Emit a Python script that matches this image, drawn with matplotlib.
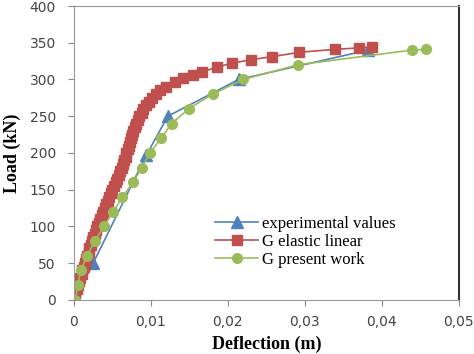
import numpy as np
import matplotlib
matplotlib.use("Agg")
import matplotlib.pyplot as plt
from matplotlib.ticker import FuncFormatter

# experimental values
exp_x = [0.0, 0.0025, 0.0094, 0.0122, 0.0214, 0.0382]
exp_y = [0, 50, 197, 250, 300, 340]

# G elastic linear
lin_x = [0.0, 0.0001, 0.0002, 0.0004, 0.0005, 0.0007, 0.0008, 0.0010, 0.0011, 0.0013,
         0.0014, 0.0016, 0.0017, 0.0019, 0.0020, 0.0022, 0.0023, 0.0025, 0.0027, 0.0029,
         0.0030, 0.0032, 0.0034, 0.0036, 0.0038, 0.0040, 0.0042, 0.0044, 0.0046, 0.0048,
         0.0050, 0.0052, 0.0054, 0.0056, 0.0058, 0.0060, 0.0062, 0.0064, 0.0065, 0.0067,
         0.0068, 0.0070, 0.0071, 0.0073, 0.0074, 0.0076, 0.0077, 0.0079, 0.0080, 0.0083,
         0.0085, 0.0088, 0.0090, 0.0094, 0.0097, 0.0101, 0.0106, 0.0112, 0.0120, 0.0131,
         0.0142, 0.0155, 0.0166, 0.0186, 0.0205, 0.0230, 0.0257, 0.0293, 0.0339, 0.0370,
         0.0387]
lin_y = [0, 5, 10, 15, 20, 25, 30, 35, 40, 45,
         50, 55, 60, 65, 70, 75, 80, 85, 90, 95,
         100, 105, 110, 115, 120, 125, 130, 135, 140, 145,
         150, 155, 160, 165, 170, 175, 180, 185, 190, 195,
         200, 205, 210, 215, 220, 225, 230, 235, 240, 245,
         250, 255, 260, 265, 270, 275, 280, 285, 290, 297,
         302, 306, 310, 317, 322, 327, 331, 337, 341, 343,
         344]

# G present work
pw_x = [0.0002, 0.0005, 0.0009, 0.0017, 0.0027, 0.0039, 0.0051, 0.0063, 0.0077, 0.0088,
        0.0099, 0.0113, 0.0127, 0.0149, 0.0180, 0.0220, 0.0291, 0.0439, 0.0457]
pw_y = [0, 20, 40, 60, 80, 100, 120, 140, 160, 180,
        200, 220, 240, 260, 280, 300, 320, 340, 341]

fig = plt.figure(figsize=(4.74, 3.54), dpi=100)
ax = fig.add_axes([0.156, 0.153, 0.812, 0.83])

ax.plot(exp_x, exp_y, color='#4F81BD', marker='^', markersize=9, lw=1.2,
        label='experimental values')
ax.plot(lin_x, lin_y, color='#C0504D', marker='s', markersize=7, lw=1.2,
        label='G elastic linear')
ax.plot(pw_x, pw_y, color='#9BBB59', marker='o', markersize=7, lw=1.2,
        label='G present work')

ax.set_xlim(0, 0.05)
ax.set_ylim(0, 400)
ax.set_xticks(np.arange(0, 0.051, 0.01))
ax.set_yticks(np.arange(0, 401, 50))
ax.xaxis.set_major_formatter(FuncFormatter(lambda v, p: '0' if v == 0 else ('%.2f' % v).replace('.', ',')))
ax.tick_params(direction='out', length=4, color='#888888', labelsize=10, labelcolor='#444444')
ax.tick_params(axis='y', pad=9)
ax.tick_params(axis='x', pad=7)

for s in ['left', 'bottom', 'top']:
    ax.spines[s].set_color('#999999')
ax.spines['right'].set_color('#333333')
ax.spines['right'].set_linewidth(1.5)

ax.set_xlabel('Deflection (m)', family='Liberation Serif', fontweight='bold', fontsize=13, labelpad=5)
ax.set_ylabel('Load (kN)', family='Liberation Serif', fontweight='bold', fontsize=13, labelpad=6)

ax.legend(loc='upper left', bbox_to_anchor=(0.345, 0.315), frameon=False,
          prop={'family': 'Liberation Serif', 'size': 12}, handlelength=2.6,
          handletextpad=0.2, labelspacing=0.12, borderpad=0)

fig.savefig('out.png', dpi=100)
